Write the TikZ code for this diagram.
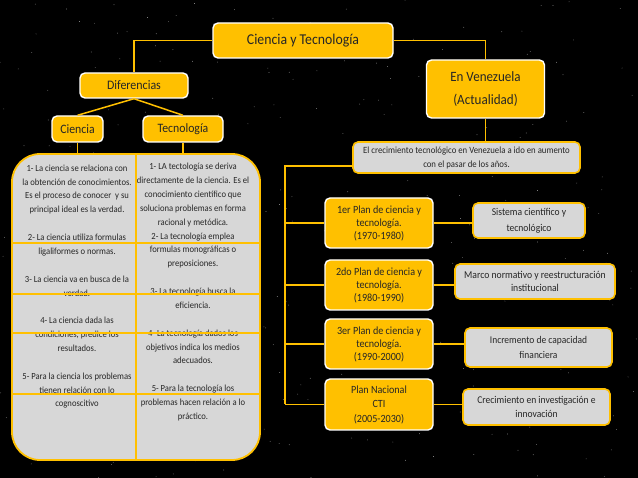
\documentclass[tikz,border=0pt]{standalone}
\usepackage{fontspec}
\setmainfont{Carlito}[FakeStretch=0.92]
\definecolor{gold}{HTML}{FFC000}
\definecolor{lgray}{HTML}{D7D7D7}
\definecolor{ink}{HTML}{262626}
\tikzset{
  goldbox/.style={fill=gold, draw=white, line width=1.4pt, rounded corners=5pt, text=ink, align=center, inner sep=0pt},
  graybox/.style={fill=lgray, draw=gold, line width=1.6pt, rounded corners=5pt, text=ink, align=center, inner sep=0pt},
  conn/.style={draw=gold, line width=1.5pt},
  coltext/.style={text=ink, align=center, inner sep=0pt, anchor=north, font=\fontsize{9.35}{13.87}\selectfont}
}
\begin{document}
\begin{tikzpicture}[x=1pt,y=-1pt]
\useasboundingbox (0,0) rectangle (638,478);
\fill[black] (0,0) rectangle (638,478);
\pgfmathsetseed{7}
\foreach \i in {1,...,350}{
  \fill[gray!45] ({rnd*638},{rnd*478}) circle (0.35pt);
}
% top level
\node[goldbox, minimum width=180, minimum height=35, font=\fontsize{15}{18}\selectfont] (top) at (303,40.5) {Ciencia y Tecnología};
\node[goldbox, minimum width=108, minimum height=25, font=\fontsize{13}{15}\selectfont] (dif) at (134,85.5) {Diferencias};
\node[goldbox, minimum width=118, minimum height=58, font=\fontsize{14.2}{23}\selectfont] (env) at (485.5,89) {En Venezuela\\(Actualidad)};
\node[goldbox, minimum width=51, minimum height=26, font=\fontsize{12.8}{15}\selectfont] (cie) at (77.5,129) {Ciencia};
\node[goldbox, minimum width=80, minimum height=26, font=\fontsize{12.8}{15}\selectfont] (tec) at (183,129) {Tecnología};
% table
\node[fill=lgray, draw=gold, line width=1.8pt, rounded corners=28pt, minimum width=248, minimum height=306, inner sep=0pt] (tbl) at (136,307) {};
\node[coltext] (lcol) at (77,164.5) {1- La ciencia se relaciona con\\
la obtención de conocimientos.\\
Es el proceso de conocer\ \ y su\\
principal ideal es la verdad.\\
~\\
2- La ciencia utiliza formulas\\
ligaliformes o normas.\\
~\\
3- La ciencia va en busca de la\\
verdad.\\
~\\
4- La ciencia dada las\\
condiciones, predice los\\
resultados.\\
~\\
5- Para la ciencia los problemas\\
tienen relación con lo\\
cognoscitivo};
\node[coltext] (rcol) at (193,163) {1- LA tectología se deriva\\
directamente de la ciencia. Es el\\
conocimiento científico que\\
soluciona problemas en forma\\
racional y metódica.\\
2- La tecnología emplea\\
formulas monográficas o\\
preposiciones.\\
~\\
3- La tecnología busca la\\
eficiencia.\\
~\\
4- La tecnología dados los\\
objetivos indica los medios\\
adecuados.\\
~\\
5- Para la tecnología los\\
problemas hacen relación a lo\\
práctico.};
\draw[conn] (tbl.north) -- (tbl.south);
\foreach \yy in {243,294,333,394}{
  \draw[conn] (tbl.west |- 0,\yy) -- (tbl.east |- 0,\yy);
}
% right side
\node[graybox, minimum width=227, minimum height=31, font=\fontsize{9.5}{14}\selectfont] (g0) at (466.5,157.5) {El crecimiento tecnológico en Venezuela a ido en aumento\\con el pasar de los años.};
\node[goldbox, minimum width=108, minimum height=50, font=\fontsize{11}{13}\selectfont] (p1) at (379,223) {1er Plan de ciencia y\\tecnología.\\(1970-1980)};
\node[goldbox, minimum width=108, minimum height=50, font=\fontsize{11}{13}\selectfont] (p2) at (379,285) {2do Plan de ciencia y\\tecnología.\\(1980-1990)};
\node[goldbox, minimum width=108, minimum height=50, font=\fontsize{11}{13}\selectfont] (p3) at (379,344) {3er Plan de ciencia y\\tecnología.\\(1990-2000)};
\node[goldbox, minimum width=108, minimum height=51, font=\fontsize{11}{14.5}\selectfont] (p4) at (379,404.5) {Plan Nacional\\CTI\\(2005-2030)};
\node[graybox, minimum width=112, minimum height=35, font=\fontsize{10.4}{16}\selectfont] (s1) at (529,220.5) {Sistema científico y\\tecnológico};
\node[graybox, minimum width=160, minimum height=35, font=\fontsize{10.5}{13.5}\selectfont] (s2) at (535,281.5) {Marco normativo y reestructuración\\institucional};
\node[graybox, minimum width=147, minimum height=39, font=\fontsize{10.3}{15}\selectfont] (s3) at (538.5,347.5) {Incremento de capacidad\\financiera};
\node[graybox, minimum width=147, minimum height=36, font=\fontsize{10.4}{14}\selectfont] (s4) at (536.5,407) {Crecimiento en investigación e\\innovación};
% connectors
\coordinate (tk) at (285,404.5);
\draw[conn] (top.west) -| (dif.north);
\draw[conn] (top.east) -| (env.north);
\draw[conn] (dif.south) -- (cie.north);
\draw[conn] (dif.south) -- (tec.north);
\draw[conn] (cie.south) -- (cie.south |- tbl.north);
\draw[conn] (tec.south) -- (tec.south |- tbl.north);
\draw[conn] (env.south) -- (env.south |- g0.north);
\draw[conn] ([yshift=-8.5pt]g0.west) -| (tk);
\foreach \p in {p1,p2,p3,p4}{
  \draw[conn] (\p.west) -- (\p.west -| tk);
}
\draw[conn] (p1.east) -- (p1.east -| s1.west);
\draw[conn] (p2.east) -- (p2.east -| s2.west);
\draw[conn] (p3.east) -- (p3.east -| s3.west);
\draw[conn] (p4.east) -- (p4.east -| s4.west);
\end{tikzpicture}
\end{document}
